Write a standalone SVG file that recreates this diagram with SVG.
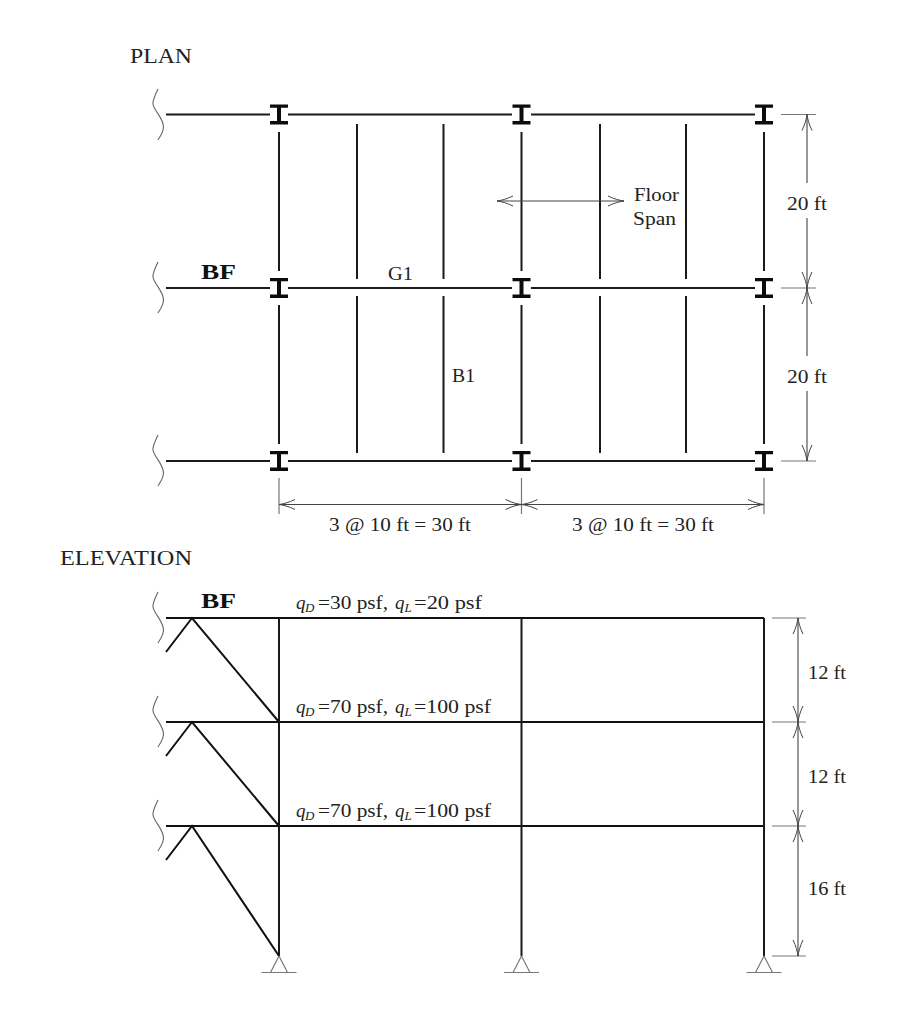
<svg xmlns="http://www.w3.org/2000/svg" width="915" height="1024" viewBox="0 0 915 1024">
<style>
text{font-family:"Liberation Serif","Times New Roman",serif;font-size:19px;fill:#222}
.h{font-size:21px}
.b{font-size:22px;font-weight:bold;fill:#111}
.i{font-style:italic}
.s{font-size:13px;font-style:italic}
.m{stroke:#1a1a1a;stroke-width:2;fill:none}
.f{stroke:#111;stroke-width:2;fill:none}
.t{stroke:#777;stroke-width:1.2;fill:none}
.d{stroke:#444;stroke-width:1.1;fill:none;marker-start:url(#a);marker-end:url(#a)}
.d1{stroke:#444;stroke-width:1.1;fill:none}
.e{marker-end:url(#a)}
.st{marker-start:url(#a)}
.w{stroke:#666;stroke-width:1.1;fill:none}
.beam{fill:#0c0c0c}
</style>
<defs>
<marker id="a" markerUnits="userSpaceOnUse" markerWidth="18" markerHeight="14" refX="17" refY="7" orient="auto-start-reverse" overflow="visible">
<path d="M1 2C7 5 13 6.500 17 7C13 7.500 7 9 1 12" fill="none" stroke="#444" stroke-width="1"/>
</marker>
<g id="ib"><path class="beam" d="M-9-10H9V-6.800H2V6.600H9V9.900H-9V6.600H-2V-6.800H-9Z"/></g>
<path id="br" class="w" d="M158-26C154.500-19 152.500-15 153-11C153.500-5 163.500 3 163.500 12C163.500 17 160.500 21 158 25"/>
<g id="sup"><path class="t" d="M0 0L-8.500 16.500M0 0L8.500 16.500M-17.500 16.500H17.500"/></g>
</defs>

<g id="connectors">
<path class="m" d="M166 114.500H270M288 114.500H512M531 114.500H755"/>
<path class="m" d="M166 288H270M288 288H512M531 288H755"/>
<path class="m" d="M166 461H270M288 461H512M531 461H755"/>
<path class="m" d="M279 132V271M279 305V444M521.500 132V271M521.500 305V444M764 132V271M764 305V444"/>
<path class="m" d="M357 124V279M357 296V453M443.500 124V279M443.500 296V453M600 124V279M600 296V453M686 124V279M686 296V453"/>
<path class="t" d="M781 114.500H816M781 288H816M781 461H816M279 478V514M521.500 478V514M764 478V514"/>
<path class="d1 st" d="M807 114.500V183"/><path class="d1 e" d="M807 218V288"/>
<path class="d1 st" d="M807 288V356"/><path class="d1 e" d="M807 391V461"/>
<path class="d" d="M279 504.500H521.500"/><path class="d" d="M521.500 504.500H764"/>
<path class="d" d="M497 201H624"/>
<path class="f" d="M166 618H764M166 722H764M166 826H764"/>
<path class="m" d="M279 618V956M521.500 618V956M764 618V956"/>
<path class="f" d="M166 652L192 618L279 722M166 756L192 722L279 826M166 860L192 826L279 956"/>
<path class="t" d="M772 618H806M772 722H806M772 826H806M772 956H806"/>
<path class="d" d="M798 618V722"/><path class="d" d="M798 722V826"/><path class="d" d="M798 826V956"/>
</g>

<g id="breaks">
<use href="#br" y="115"/><use href="#br" y="288"/><use href="#br" y="461"/>
<use href="#br" y="618"/><use href="#br" y="722"/><use href="#br" y="826"/>
</g>

<g id="col-a1"><use href="#ib" x="279" y="114.500"/></g>
<g id="col-b1"><use href="#ib" x="521.500" y="114.500"/></g>
<g id="col-c1"><use href="#ib" x="764" y="114.500"/></g>
<g id="col-a2"><use href="#ib" x="279" y="288"/></g>
<g id="col-b2"><use href="#ib" x="521.500" y="288"/></g>
<g id="col-c2"><use href="#ib" x="764" y="288"/></g>
<g id="col-a3"><use href="#ib" x="279" y="461"/></g>
<g id="col-b3"><use href="#ib" x="521.500" y="461"/></g>
<g id="col-c3"><use href="#ib" x="764" y="461"/></g>
<g id="sup-a"><use href="#sup" x="279" y="956"/></g>
<g id="sup-b"><use href="#sup" x="521.500" y="956"/></g>
<g id="sup-c"><use href="#sup" x="764" y="956"/></g>

<g id="labels">
<text class="h" x="130" y="63" textLength="62" lengthAdjust="spacingAndGlyphs">PLAN</text>
<text class="h" x="60" y="565" textLength="132" lengthAdjust="spacingAndGlyphs">ELEVATION</text>
<text class="b" x="201" y="279" textLength="35" lengthAdjust="spacingAndGlyphs">BF</text>
<text class="b" x="201" y="608" textLength="35" lengthAdjust="spacingAndGlyphs">BF</text>
<text x="388" y="280" textLength="25" lengthAdjust="spacingAndGlyphs">G1</text>
<text x="452" y="382" textLength="23" lengthAdjust="spacingAndGlyphs">B1</text>
<text x="634" y="201" textLength="45" lengthAdjust="spacingAndGlyphs">Floor</text>
<text x="633" y="225" textLength="43" lengthAdjust="spacingAndGlyphs">Span</text>
<text x="787" y="210" textLength="40" lengthAdjust="spacingAndGlyphs">20 ft</text>
<text x="787" y="383" textLength="40" lengthAdjust="spacingAndGlyphs">20 ft</text>
<text x="329" y="531" textLength="142" lengthAdjust="spacingAndGlyphs">3 @ 10 ft = 30 ft</text>
<text x="572" y="531" textLength="142" lengthAdjust="spacingAndGlyphs">3 @ 10 ft = 30 ft</text>
<text x="808" y="679" textLength="38" lengthAdjust="spacingAndGlyphs">12 ft</text>
<text x="808" y="783" textLength="38" lengthAdjust="spacingAndGlyphs">12 ft</text>
<text x="808" y="895" textLength="38" lengthAdjust="spacingAndGlyphs">16 ft</text>

<text class="i" x="296" y="609">q</text><text class="s" x="305" y="612">D</text>
<text x="318" y="609" textLength="70" lengthAdjust="spacingAndGlyphs">=30 psf,</text>
<text class="i" x="395" y="609">q</text><text class="s" x="404.500" y="612">L</text>
<text x="414" y="609" textLength="68" lengthAdjust="spacingAndGlyphs">=20 psf</text>

<text class="i" x="296" y="713">q</text><text class="s" x="305" y="716">D</text>
<text x="318" y="713" textLength="70" lengthAdjust="spacingAndGlyphs">=70 psf,</text>
<text class="i" x="395" y="713">q</text><text class="s" x="404.500" y="716">L</text>
<text x="414" y="713" textLength="77" lengthAdjust="spacingAndGlyphs">=100 psf</text>

<text class="i" x="296" y="817">q</text><text class="s" x="305" y="820">D</text>
<text x="318" y="817" textLength="70" lengthAdjust="spacingAndGlyphs">=70 psf,</text>
<text class="i" x="395" y="817">q</text><text class="s" x="404.500" y="820">L</text>
<text x="414" y="817" textLength="77" lengthAdjust="spacingAndGlyphs">=100 psf</text>
</g>
</svg>
